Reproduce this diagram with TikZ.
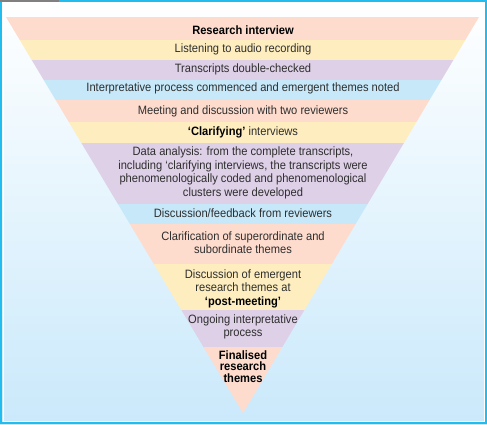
\documentclass[tikz,border=0pt]{standalone}
\usepackage{fontspec}
\setmainfont{Liberation Sans}[FakeStretch=0.92]
\begin{document}
\begin{tikzpicture}[x=1pt,y=-1pt,
  lbl/.style={inner sep=0pt,align=center,text=black!82,font=\fontsize{12.1}{13.4}\selectfont},
  bolder/.style={lbl,text=black,font=\bfseries\fontsize{12.1}{11.5}\selectfont}]
\definecolor{peach}{HTML}{FDDCCE}
\definecolor{yel}{HTML}{FEEEBF}
\definecolor{purp}{HTML}{DDD0E7}
\definecolor{blu}{HTML}{C6E8F9}
\definecolor{frame}{HTML}{22BDEE}
\useasboundingbox (0,0) rectangle (487,424);
\shade[top color=white, bottom color={rgb,255:red,202;green,233;blue,251}] (0,0) rectangle (487,424);
\newcommand\fband[3]{%
 \pgfmathsetmacro\la{6+(#1-17)/396*237}%
 \pgfmathsetmacro\ra{479-(#1-17)/396*236}%
 \pgfmathsetmacro\lb{6+(#2-17)/396*237}%
 \pgfmathsetmacro\rb{479-(#2-17)/396*236}%
 \fill[#3] (\la,#1) -- (\ra,#1) -- (\rb,#2) -- (\lb,#2) -- cycle;}
\fband{17}{40}{peach}
\fband{40}{60}{yel}
\fband{60}{80}{purp}
\fband{80}{100}{blu}
\fband{100}{122}{peach}
\fband{122}{143}{yel}
\fband{143}{204}{purp}
\fband{204}{224}{blu}
\fband{224}{264}{peach}
\fband{264}{310}{yel}
\fband{310}{347}{purp}
\fband{347}{413}{peach}
% frame
\draw[white,line width=1pt] (3,3) rectangle (484,421);
\draw[frame,line width=2pt] (1,1) rectangle (486,423);
\fill[gray] (0,0) rectangle (59,2);
% labels
\node[bolder] (t1) at (243,30) {Research interview};
\node[lbl] (t2) at (243,49.5) {Listening to audio recording};
\node[lbl] (t3) at (243,69.5) {Transcripts double-checked};
\node[lbl] (t4) at (243,88.5) {Interpretative process commenced and emergent themes noted};
\node[lbl] (t5) at (243,111) {Meeting and discussion with two reviewers};
\node[lbl] (t6) at (243,132.5) {\textbf{\color{black}‘Clarifying’} interviews};
\node[lbl,font=\fontsize{12.1}{13.7}\selectfont] (t7) at (243,173) {Data analysis: from the complete transcripts,\\including ‘clarifying interviews, the transcripts were\\phenomenologically coded and phenomenological\\clusters were developed};
\node[lbl] (t8) at (243,213) {Discussion/feedback from reviewers};
\node[lbl,font=\fontsize{12.1}{12.5}\selectfont] (t9) at (243,242.5) {Clarification of superordinate and\\subordinate themes};
\node[lbl] (t10) at (243,288.5) {Discussion of emergent\\research themes at\\\textbf{\color{black}‘post-meeting’}};
\node[lbl] (t11) at (243,327) {Ongoing interpretative\\process};
\node[bolder] (t12) at (243,366.5) {Finalised\\research\\themes};
\end{tikzpicture}
\end{document}
